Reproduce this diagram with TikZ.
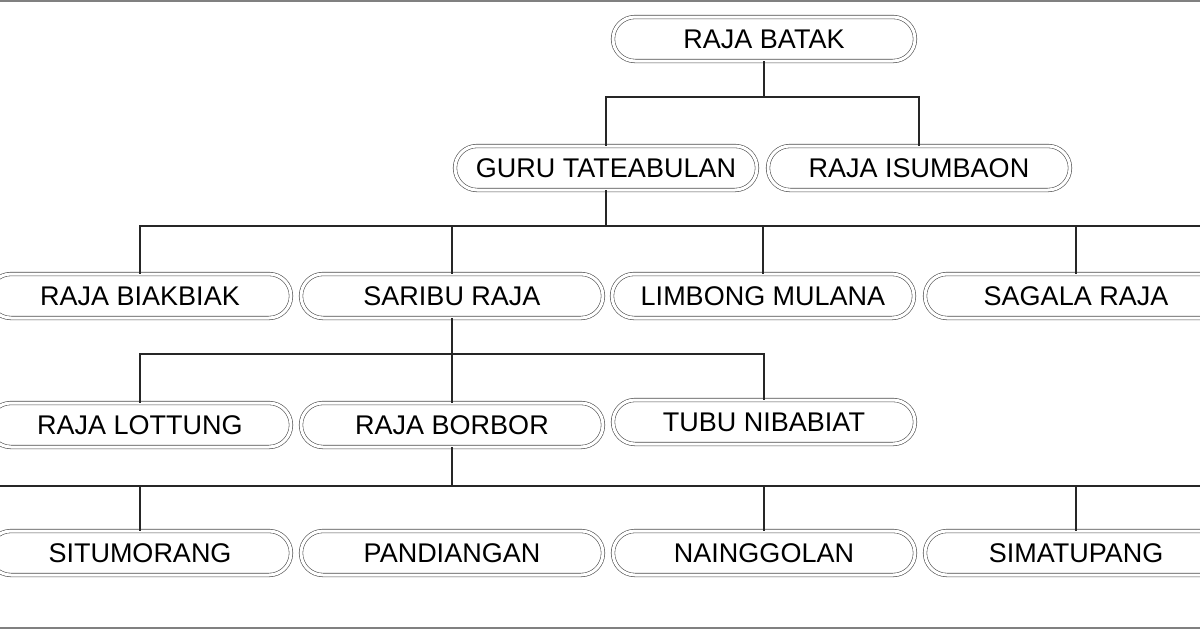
\documentclass[tikz,border=0pt]{standalone}
\usepackage{fontspec}
\setmainfont{Liberation Sans}
\begin{document}
\begin{tikzpicture}[x=1pt,y=-1pt,
  box/.style={draw=black!70,line width=0.6pt,double=white,double distance=3pt,rounded corners=22pt,minimum width=302pt,minimum height=44pt,inner sep=0pt,font=\fontsize{27}{27}\selectfont},
  ln/.style={line width=1.2pt,black!85}]
\useasboundingbox (0,0) rectangle (1200,630);
\draw[black!50,line width=1.2pt] (0,1)--(1200,1) (0,628)--(1200,628);
\node[box] (batak) at (764,39) {RAJA BATAK};
\node[box] (guru) at (606,168) {GURU TATEABULAN};
\node[box] (isum) at (919,168) {RAJA ISUMBAON};
\node[box] (biak) at (140,296) {RAJA BIAKBIAK};
\node[box] (sari) at (452,296) {SARIBU RAJA};
\node[box] (limb) at (763,296) {LIMBONG MULANA};
\node[box] (saga) at (1076,296) {SAGALA RAJA};
\node[box] (lott) at (140,425) {RAJA LOTTUNG};
\node[box] (borb) at (452,425) {RAJA BORBOR};
\node[box] (tubu) at (764,422) {TUBU NIBABIAT};
\node[box] (situ) at (140,553) {SITUMORANG};
\node[box] (pand) at (452,553) {PANDIANGAN};
\node[box] (nain) at (764,553) {NAINGGOLAN};
\node[box] (sima) at (1076,553) {SIMATUPANG};
\coordinate (r1) at (0,486); \coordinate (r2) at (1200,486); \coordinate (r3) at (1200,226);
% level 1
\draw[ln] (batak.south) -- (764,97);
\draw[ln] (guru.north) |- (764,97) -| (isum.north);
% level 2
\draw[ln] (guru.south) -- (606,226);
\draw[ln] (biak.north) |- (r3);
\draw[ln] (sari.north) -- (452,226) (limb.north) -- (763,226) (saga.north) -- (1076,226);
% level 3
\draw[ln] (sari.south) -- (452,354);
\draw[ln] (lott.north) |- (764,354) -- (tubu.north);
\draw[ln] (borb.north) -- (452,354);
% level 4
\draw[ln] (borb.south) -- (452,486);
\draw[ln] (r1) -- (r2);
\draw[ln] (situ.north) -- (140,486) (nain.north) -- (764,486) (sima.north) -- (1076,486);
\end{tikzpicture}
\end{document}
